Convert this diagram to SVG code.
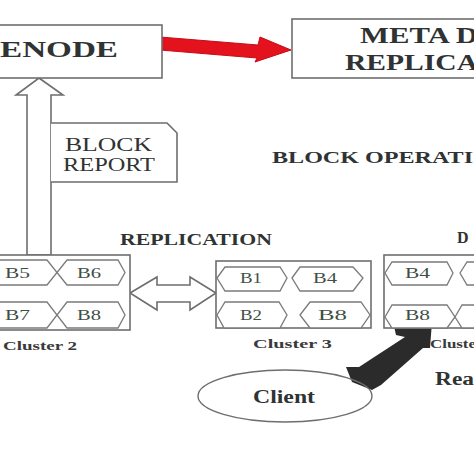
<svg xmlns="http://www.w3.org/2000/svg" width="474" height="474" viewBox="0 0 474 474">
<style>
.box{fill:#fff;stroke:#6e6e6e;stroke-width:1.6}
.hex{fill:#fff;stroke:#7a7a7a;stroke-width:1.3}
.t{font-family:"Liberation Serif","Times New Roman",serif;fill:#2f3333}
.h{font-weight:bold}
.b{font-family:"Liberation Serif","Times New Roman",serif;fill:#3f4f45;font-size:15px}
.c{font-family:"Liberation Serif","Times New Roman",serif;fill:#3a3a3a;font-size:13px;font-weight:bold}
</style>
<rect width="474" height="474" fill="#fff"/>

<g id="connectors">
  <polygon id="red-arrow" points="160,37 258,45 260,37 291,50 255,62 257,58 160,50" fill="#e3121c" stroke="#c40d18" stroke-width="1"/>
  <polygon id="block-report-arrow" points="39,78 63,95 51,95 51,255 27,255 27,95 16,95" class="box"/>
  <polygon id="replication-arrow" points="130,293 157,277 157,285 190,285 190,277 216,293 190,310 190,302 157,302 157,310" class="box"/>
  <polygon id="read-arrow" points="393,322 432,322 430,348 423,348 381,385 372,390 352,382 346,367 359,367 405,337 396,335" fill="#2b2b2b"/>
</g>

<g id="namenode">
  <rect x="-4" y="25" width="166" height="53" class="box"/>
  <text x="0" y="57" class="t h" font-size="23" textLength="118" lengthAdjust="spacingAndGlyphs">ENODE</text>
</g>

<g id="metadata">
  <rect x="292" y="19" width="190" height="59" class="box"/>
  <text x="360" y="43" class="t h" font-size="24" textLength="118" lengthAdjust="spacingAndGlyphs">META D</text>
  <text x="345" y="70" class="t h" font-size="24" textLength="133" lengthAdjust="spacingAndGlyphs">REPLICA</text>
</g>

<g id="block-report">
  <path d="M51,123 H167 L177,133 V182 H51" class="box"/>
  <text x="65" y="151" class="t" font-size="18" textLength="87" lengthAdjust="spacingAndGlyphs">BLOCK</text>
  <text x="63" y="171" class="t" font-size="18" textLength="92" lengthAdjust="spacingAndGlyphs">REPORT</text>
</g>

<g id="labels">
  <text x="272" y="163" class="t h" font-size="16" textLength="201" lengthAdjust="spacingAndGlyphs">BLOCK OPERATI</text>
  <text x="120" y="245" class="t h" font-size="16" textLength="152" lengthAdjust="spacingAndGlyphs">REPLICATION</text>
  <text x="457" y="243" class="t h" font-size="16">D</text>
  <text x="435" y="385" class="t h" font-size="18" textLength="39" lengthAdjust="spacingAndGlyphs">Rea</text>
</g>

<g id="cluster2">
  <rect x="-4" y="255" width="134" height="75" class="box"/>
  <polygon points="-10,260 47,260 57,272.5 47,285 -10,285" class="hex"/>
  <polygon points="67,260 118,260 125,272.5 118,285 67,285 57,272.5" class="hex"/>
  <polygon points="-10,302 47,302 57,315 47,328 -10,328" class="hex"/>
  <polygon points="67,302 118,302 125,315 118,328 67,328 57,315" class="hex"/>
  <text x="5" y="278" class="b" textLength="25" lengthAdjust="spacingAndGlyphs">B5</text>
  <text x="77" y="278" class="b" textLength="24" lengthAdjust="spacingAndGlyphs">B6</text>
  <text x="5" y="320" class="b" textLength="25" lengthAdjust="spacingAndGlyphs">B7</text>
  <text x="77" y="320" class="b" textLength="24" lengthAdjust="spacingAndGlyphs">B8</text>
  <text x="3" y="350" class="c" textLength="74" lengthAdjust="spacingAndGlyphs">Cluster 2</text>
</g>

<g id="cluster3">
  <rect x="216" y="261" width="155" height="67" class="box"/>
  <polygon points="217,278 225,267 280,267 287,278 280,291 225,291" class="hex"/>
  <polygon points="292,278 300,267 353,267 363,278 353,291 300,291" class="hex"/>
  <polygon points="217,315 225,302 279,302 287,315 280,328 224,328" class="hex"/>
  <polygon points="300,315 310,302 361,302 370,315 361,328 310,328" class="hex"/>
  <text x="240" y="283" class="b" textLength="22" lengthAdjust="spacingAndGlyphs">B1</text>
  <text x="313" y="283" class="b" textLength="24" lengthAdjust="spacingAndGlyphs">B4</text>
  <text x="240" y="320" class="b" textLength="22" lengthAdjust="spacingAndGlyphs">B2</text>
  <text x="318" y="320" class="b" textLength="29" lengthAdjust="spacingAndGlyphs">B8</text>
  <text x="253" y="348" class="c" textLength="79" lengthAdjust="spacingAndGlyphs">Cluster 3</text>
</g>

<g id="cluster4">
  <rect x="384" y="255" width="100" height="73" class="box"/>
  <polygon points="385,273 392,262 447,262 453,273 447,285 392,285" class="hex"/>
  <polygon points="460,273 467,262 490,262 490,285 467,285" class="hex"/>
  <polygon points="385,317 392,305 447,305 455,317 447,328 392,328" class="hex"/>
  <polygon points="455,317 462,305 490,305 490,328 462,328" class="hex"/>
  <text x="405" y="278" class="b" textLength="25" lengthAdjust="spacingAndGlyphs">B4</text>
  <text x="405" y="320" class="b" textLength="25" lengthAdjust="spacingAndGlyphs">B8</text>
  <text x="430" y="348" class="c" textLength="46" lengthAdjust="spacingAndGlyphs">Cluste</text>
</g>

<g id="client">
  <ellipse cx="285" cy="396" rx="87" ry="26" fill="none" stroke="#6e6e6e" stroke-width="1.4"/>
  <text x="253" y="403" class="t h" font-size="18" textLength="62" lengthAdjust="spacingAndGlyphs">Client</text>
</g>
</svg>
